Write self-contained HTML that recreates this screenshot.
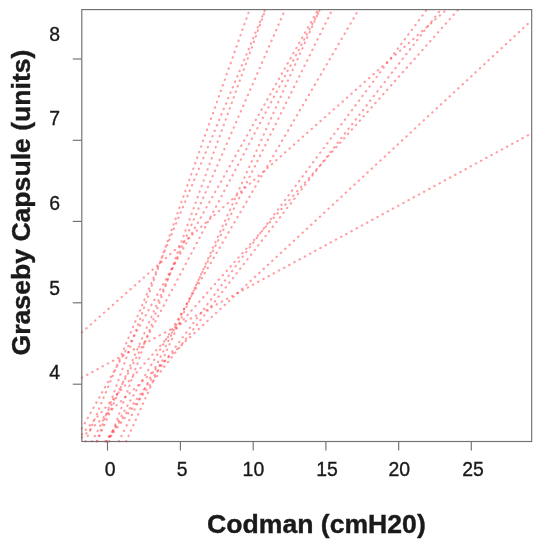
<!DOCTYPE html>
<html><head><meta charset="utf-8"><title>Graseby Capsule vs Codman</title>
<style>
html,body{margin:0;padding:0;background:#fff}
svg{display:block}
text{font-family:"Liberation Sans",Arial,Helvetica,sans-serif;fill:#1a1a1a}
.tk{font-size:19.4px;text-anchor:middle;stroke:#1a1a1a;stroke-width:.35}
.ttl{font-size:26.6px;font-weight:bold;text-anchor:middle;stroke:#1a1a1a;stroke-width:.4}
.ax line,.ax rect{stroke:#707070;stroke-width:1.15;fill:none}
.ln line{stroke:#ff1c24;stroke-opacity:.43;stroke-width:2.1;stroke-linecap:round;stroke-dasharray:0.5 5.4;fill:none}
</style></head><body>
<svg width="541" height="550" viewBox="0 0 541 550">
<rect width="541" height="550" fill="#fff"/>
<g class="ln">
<line x1="96.7" y1="441.5" x2="249.6" y2="9.6" stroke-dashoffset="0.0"/>
<line x1="85.4" y1="441.5" x2="265.1" y2="9.6" stroke-dashoffset="0.0"/>
<line x1="109.2" y1="441.5" x2="265.5" y2="9.6" stroke-dashoffset="0.0"/>
<line x1="97.2" y1="441.5" x2="285.1" y2="9.6" stroke-dashoffset="0.0"/>
<line x1="81.8" y1="428.5" x2="318.0" y2="9.6" stroke-dashoffset="0.0"/>
<line x1="92.0" y1="441.5" x2="320.0" y2="9.6" stroke-dashoffset="0.0"/>
<line x1="126.0" y1="441.5" x2="319.8" y2="9.6" stroke-dashoffset="0.0"/>
<line x1="118.7" y1="441.5" x2="332.3" y2="9.6" stroke-dashoffset="0.0"/>
<line x1="106.5" y1="441.5" x2="358.7" y2="9.6" stroke-dashoffset="0.0"/>
<line x1="105.1" y1="441.5" x2="426.9" y2="9.6" stroke-dashoffset="0.0"/>
<line x1="106.5" y1="441.5" x2="440.8" y2="9.6" stroke-dashoffset="0.0"/>
<line x1="81.8" y1="332.4" x2="446.5" y2="9.6" stroke-dashoffset="0.0"/>
<line x1="81.8" y1="434.3" x2="458.3" y2="9.6" stroke-dashoffset="0.0"/>
<line x1="81.8" y1="437.5" x2="531.6" y2="20.4" stroke-dashoffset="0.0"/>
<line x1="81.8" y1="377.7" x2="531.6" y2="133.3" stroke-dashoffset="0.0"/>
</g>
<g class="ax">
<rect x="81.8" y="9.6" width="449.9" height="431.9"/>
<line x1="72.8" y1="59.0" x2="81.8" y2="59.0"/>
<line x1="72.8" y1="140.3" x2="81.8" y2="140.3"/>
<line x1="72.8" y1="221.4" x2="81.8" y2="221.4"/>
<line x1="72.8" y1="302.8" x2="81.8" y2="302.8"/>
<line x1="72.8" y1="384.2" x2="81.8" y2="384.2"/>
<line x1="107.5" y1="441.5" x2="107.5" y2="450.6"/>
<line x1="180.4" y1="441.5" x2="180.4" y2="450.6"/>
<line x1="253.2" y1="441.5" x2="253.2" y2="450.6"/>
<line x1="325.9" y1="441.5" x2="325.9" y2="450.6"/>
<line x1="398.7" y1="441.5" x2="398.7" y2="450.6"/>
<line x1="471.3" y1="441.5" x2="471.3" y2="450.6"/>
</g>
<g>
<text class="tk" x="54.6" y="40.8">8</text>
<text class="tk" x="54.6" y="125.3">7</text>
<text class="tk" x="54.6" y="209.8">6</text>
<text class="tk" x="54.6" y="294.6">5</text>
<text class="tk" x="54.6" y="379.1">4</text>
<text class="tk" x="110.2" y="475.7">0</text>
<text class="tk" x="182.2" y="475.7">5</text>
<text class="tk" x="253.4" y="475.7">10</text>
<text class="tk" x="327.0" y="475.7">15</text>
<text class="tk" x="399.2" y="475.7">20</text>
<text class="tk" x="473.0" y="475.7">25</text>
<text class="ttl" x="316.4" y="533.2">Codman (cmH20)</text>
<text class="ttl" transform="translate(30.2 202.5) rotate(-90)">Graseby Capsule (units)</text>
</g>
</svg>
</body></html>
